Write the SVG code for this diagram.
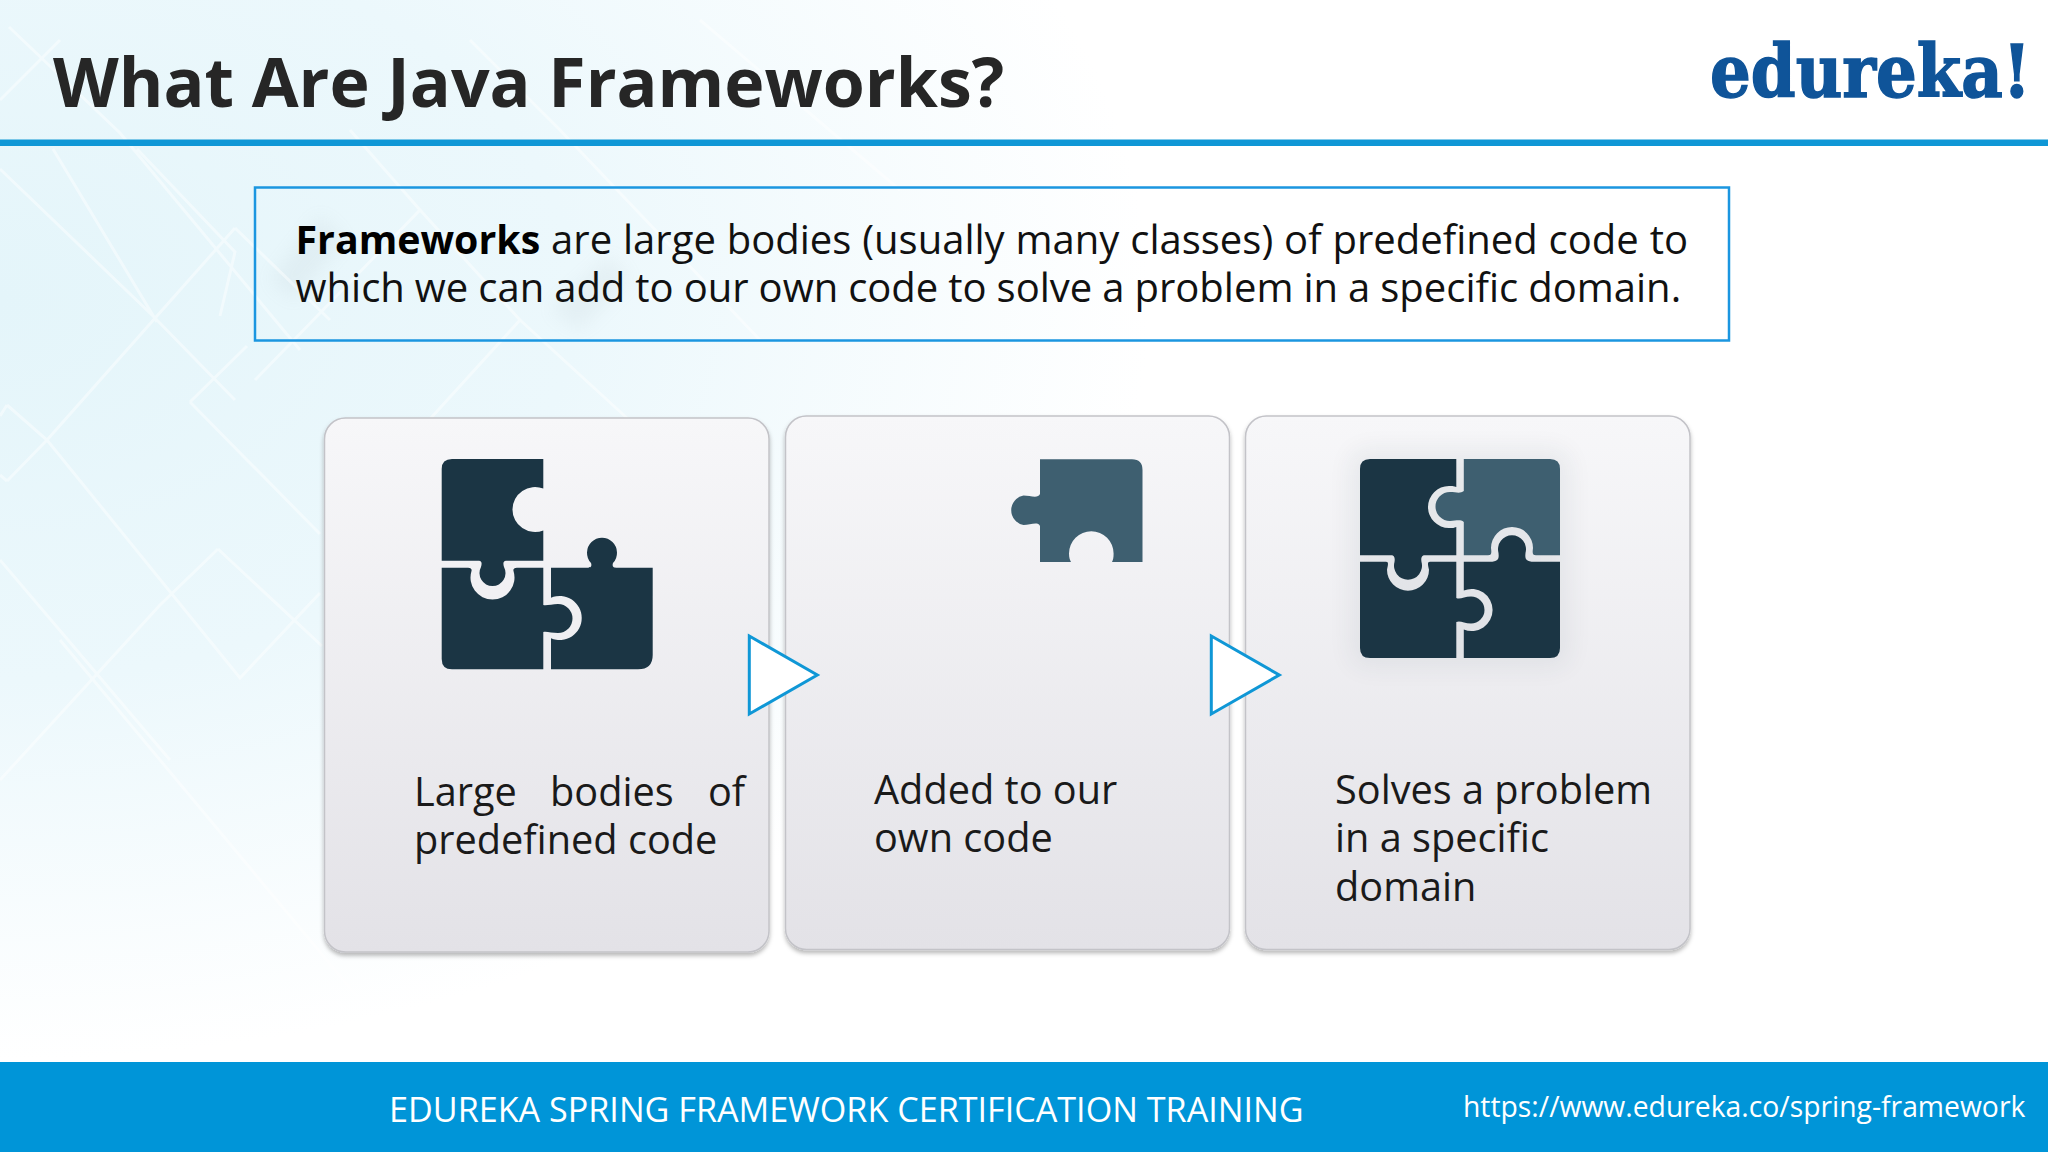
<svg xmlns="http://www.w3.org/2000/svg" width="2048" height="1152" viewBox="0 0 2048 1152">
<style>
.os{font-family:"Open Sans","Noto Sans",sans-serif}
.body{font-size:40px;fill:#111}
.card{font-size:39.700px;fill:#1a1a1a}
.cardbox{fill:url(#cg);stroke:#c3c3c8;stroke-width:1.500;filter:url(#sh)}
.d{fill:#1b3544}
.l{fill:#3e5f70}
.arrow{fill:#fff;stroke:#0f97d6;stroke-width:3;stroke-linejoin:miter}
.bg{fill:none;stroke:#fff;stroke-width:3;opacity:.45}
</style>
<defs>
<radialGradient id="bgg" gradientUnits="userSpaceOnUse" cx="0" cy="300" r="1" gradientTransform="translate(0 300) scale(1150 760) translate(0 -300)">
<stop offset="0" stop-color="#e4f5fa"/><stop offset=".5" stop-color="#ecf8fc"/><stop offset="1" stop-color="#fff"/>
</radialGradient>
<linearGradient id="cg" x1="0" y1="0" x2="0" y2="1"><stop offset="0" stop-color="#f7f7f9"/><stop offset="1" stop-color="#e3e2e7"/></linearGradient>
<filter id="sh" x="-5%" y="-5%" width="110%" height="110%"><feDropShadow dx="0" dy="3" stdDeviation="2" flood-color="#000" flood-opacity=".28"/></filter>
<filter id="glow" x="-20%" y="-20%" width="140%" height="140%"><feGaussianBlur stdDeviation="12"/></filter>
<filter id="soft" x="-50%" y="-50%" width="200%" height="200%"><feGaussianBlur stdDeviation="9"/></filter>
</defs>
<rect width="2048" height="1152" fill="#fff"/>
<rect width="1350" height="1062" fill="url(#bgg)"/>
<g id="background-patches" fill="#9aa8b0" opacity=".1" filter="url(#soft)">
<path d="M270 280L320 215L345 240L295 300Z"/>
<path d="M550 310L610 255L630 280L580 330Z"/>
</g>
<g id="background-lines">
<path class="bg" d="M137 149L235 252L220 316M0 169L153 316L235 400M235 228L47 440M235 228L330 320M53 149L157 322M7 405L47 440L240 678L320 593M7 405L0 416M7 481L47 440M7 481L0 475M190 402L320 534M190 402L247 346M218 549L322 646M218 549L160 605L0 780M9 27L120 133L300 350M0 100L60 40M255 380L420 210L520 320L420 430L330 540M420 210L350 130M560 130L470 40M520 320L640 430M560 130L760 340M700 20L900 190M60 640L360 1000M0 560L170 760"/>
</g>
<g id="header">
<rect y="139.500" width="2048" height="6.500" fill="#0f97d6"/>
<text id="title" class="os" x="53" y="107" font-size="68" font-weight="700" fill="#262626">What Are Java Frameworks?</text>
<text id="logo" x="1710" y="97" font-family="'DejaVu Serif',serif" font-weight="700" font-size="72" fill="#0f5499" stroke="#0f5499" stroke-width="1.500" textLength="321" lengthAdjust="spacingAndGlyphs">edureka!</text>
</g>
<g id="definition">
<rect x="255" y="187.500" width="1474" height="153" fill="none" stroke="#1b96e0" stroke-width="2.500"/>
<text class="os body" x="295.500" y="254" word-spacing="0.500"><tspan font-weight="700" font-size="39.300" fill="#000">Frameworks</tspan> are large bodies (usually many classes) of predefined code to</text>
<text class="os body" x="295.500" y="301.500" word-spacing="-0.400">which we can add to our own code to solve a problem in a specific domain.</text>
</g>
<g id="node-large-bodies">
<rect class="cardbox" x="324.500" y="418" width="444.500" height="534" rx="21"/>
<path class="d" d="M452 459H543.300V488.600A22.500 22.500 0 1 0 543.300 530.400V560.700H506C503 560.700 503 564 504 567A13 13 0 1 1 481 567C482 564 482 560.700 479 560.700H441.700V469Q441.700 459 452 459Z"/>
<path class="d" d="M441.700 567.700H468C471 567.700 472 569 471.500 571A22 22 0 1 0 513.500 571C513 569 514 567.700 517 567.700H543.300V605C546 606 552 604 558 604A14.500 14.500 0 0 1 558 633C552 633 546 631 543.300 632V669.300H452Q441.700 669.300 441.700 659Z"/>
<path class="d" d="M551 567.700H588C591 567.700 592 566 591 563A15 15 0 1 1 613 563C612 566 613 567.700 616 567.700H652.700V655Q652.700 669.300 638 669.300H551V638.200A22 22 0 1 0 551 597.800Z"/>
</g>
<g id="node-own-code">
<rect class="cardbox" x="785.500" y="416" width="444" height="533.500" rx="21"/>
<path class="l" d="M1040 459.300H1132Q1142.500 459.300 1142.500 470V562H1112C1113 560 1113.600 558 1113.600 553.500A22.300 22.300 0 0 0 1069 553.500C1069 558 1070 560 1071 562H1040V526C1038 521 1030 525 1023.500 525A15 15 0 0 1 1023.500 495.500C1030 495.500 1038 499 1040 494Z"/>
</g>
<g id="node-solves">
<rect class="cardbox" x="1245.500" y="416" width="444.500" height="533.500" rx="21"/>
<rect x="1350" y="449" width="220" height="219" rx="16" fill="#1b3544" opacity=".06" filter="url(#glow)"/>
<path class="d" d="M1370 459H1456.300V487C1452 485.500 1452 486 1449 486A21 21 0 0 0 1449 528C1452 528 1452 528.500 1456.300 527V555.300H1425C1421 555.300 1421 559 1421.500 562A14 14 0 1 1 1394.500 562C1395 559 1395 555.300 1391 555.300H1360V469Q1360 459 1370 459Z"/>
<path class="l" d="M1463.800 459H1550Q1560 459 1560 469V555.300H1536C1532 555.300 1532.500 552 1533 548A21 21 0 0 0 1491 548C1491.500 552 1492 555.300 1488 555.300H1463.800V522C1460 519 1456 521 1450 521A14.500 14.500 0 0 1 1450 492C1456 492 1460 494 1463.800 491Z"/>
<path class="d" d="M1360 561.700H1386C1389 561.700 1388 565 1387 569.700A21 21 0 0 0 1429 569.700C1428 565 1427 561.700 1430 561.700H1456.300V598C1460 600 1464 596.500 1471 596.500A13.500 13.500 0 0 1 1471 623.500C1464 623.500 1460 620 1456.300 622V658H1370Q1360 658 1360 648Z"/>
<path class="d" d="M1463.800 561.700H1490C1499 561.700 1499 558 1498.500 553A14 14 0 1 1 1525.500 553C1525 558 1525 561.700 1534 561.700H1560V648Q1560 658 1550 658H1463.800V629.500A21 21 0 1 0 1463.800 590.500Z"/>
</g>
<g id="node-large-label"><text class="os card" y="806"><tspan x="414">Large</tspan><tspan x="550">bodies</tspan><tspan x="708">of</tspan></text>
<text class="os card" x="414" y="854">predefined code</text></g>
<g id="node-own-label"><text class="os card" x="874" y="803.500">Added to our</text><text class="os card" x="874" y="851.500">own code</text></g>
<g id="node-solves-label"><text class="os card" x="1335" y="803.500">Solves a problem</text><text class="os card" x="1335" y="851.500">in a specific</text><text class="os card" x="1335" y="900.500">domain</text></g>
<g id="connectors">
<path class="arrow" d="M749.300 636L817.300 675L749.300 714Z"/>
<path class="arrow" d="M1211.300 636L1279.300 675L1211.300 714Z"/>
</g>
<g id="footer">
<rect y="1062" width="2048" height="90" fill="#0095d8"/>
<text class="os" x="389" y="1122" font-size="34.150" fill="#fff">EDUREKA SPRING FRAMEWORK CERTIFICATION TRAINING</text>
<text class="os" x="1463" y="1117" font-size="28.300" fill="#fff">https://www.edureka.co/spring-framework</text>
</g>
</svg>
